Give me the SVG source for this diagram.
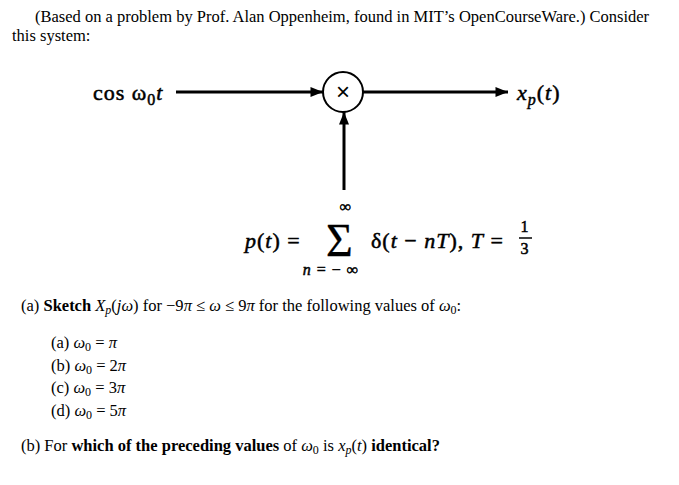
<svg xmlns="http://www.w3.org/2000/svg" width="679" height="485" viewBox="0 0 679 485">
<style>
.t{font-family:"Liberation Serif",serif;font-size:16.5px;fill:#000}
.d{font-family:"Liberation Serif",serif;font-size:22px;fill:#000;stroke:#000;stroke-width:0.5;letter-spacing:1px}
.i{font-style:italic}
.b{font-weight:bold}
.w{stroke:#000;stroke-width:3;fill:none}
</style>
<defs>
<marker id="a" viewBox="0 0 10 8" refX="10" refY="4" markerWidth="18" markerHeight="10" markerUnits="userSpaceOnUse" orient="auto"><path d="M0,0L10,4L0,8z" fill="#000"/></marker></defs>
<text class="t" x="35" y="22">(Based on a problem by Prof. Alan Oppenheim, found in MIT’s OpenCourseWare.) Consider</text>
<text class="t" x="12" y="41">this system:</text>
<g id="mult"><circle cx="343" cy="92" r="20" fill="#fff" stroke="#000" stroke-width="2"/><text x="343" y="100" text-anchor="middle" font-family="Liberation Sans,sans-serif" font-size="24">×</text></g>
<g id="connectors">
<line class="w" x1="176" y1="92" x2="323" y2="92" marker-end="url(#a)"/>
<line class="w" x1="363" y1="92" x2="508" y2="92" marker-end="url(#a)"/>
<line class="w" x1="344" y1="190" x2="344" y2="112" marker-end="url(#a)"/>
</g>
<g id="in"><text class="d" x="93" y="100">cos ω<tspan style="font-size:16px" dy="5">0</tspan><tspan class="i" dy="-5">t</tspan></text></g>
<g id="out"><text class="d i" x="517" y="100">x<tspan style="font-size:16px" dy="5">p</tspan><tspan dy="-5" font-style="normal">(</tspan>t<tspan font-style="normal">)</tspan></text></g>
<g id="pt">
<text class="d" x="245" y="248"><tspan class="i">p</tspan>(<tspan class="i">t</tspan>) =</text>
<text class="d" x="326" y="256" style="font-size:46px;stroke-width:0.3">Σ</text>
<text class="d" x="346" y="212" text-anchor="middle" style="font-size:16px">∞</text>
<text class="d" x="331" y="275" text-anchor="middle" style="font-size:16px"><tspan class="i">n</tspan> = − ∞</text>
<text class="d" x="371" y="248">δ(<tspan class="i">t</tspan> − <tspan class="i">nT</tspan>),  <tspan class="i">T</tspan> =</text>
<text class="d" x="525" y="232" text-anchor="middle" style="font-size:16px">1</text>
<line x1="519" y1="238" x2="532" y2="238" stroke="#000" stroke-width="1.5"/>
<text class="d" x="525" y="254" text-anchor="middle" style="font-size:16px">3</text>
</g>
<text class="t" x="21" y="311">(a) <tspan class="b">Sketch</tspan> <tspan class="i">X</tspan><tspan class="i" style="font-size:12px" dy="3">p</tspan><tspan dy="-3">(</tspan><tspan class="i">jω</tspan>) for −9<tspan class="i">π</tspan> ≤ <tspan class="i">ω</tspan> ≤ 9<tspan class="i">π</tspan> for the following values of <tspan class="i">ω</tspan><tspan style="font-size:12px" dy="3">0</tspan><tspan dy="-3">:</tspan></text>
<text class="t" x="51" y="348">(a)  <tspan class="i">ω</tspan><tspan style="font-size:12px" dy="3">0</tspan><tspan dy="-3"> = </tspan><tspan class="i">π</tspan></text>
<text class="t" x="51" y="371">(b)  <tspan class="i">ω</tspan><tspan style="font-size:12px" dy="3">0</tspan><tspan dy="-3"> = 2</tspan><tspan class="i">π</tspan></text>
<text class="t" x="51" y="393">(c)  <tspan class="i">ω</tspan><tspan style="font-size:12px" dy="3">0</tspan><tspan dy="-3"> = 3</tspan><tspan class="i">π</tspan></text>
<text class="t" x="51" y="416">(d)  <tspan class="i">ω</tspan><tspan style="font-size:12px" dy="3">0</tspan><tspan dy="-3"> = 5</tspan><tspan class="i">π</tspan></text>
<text class="t" x="21" y="451">(b) For <tspan class="b">which of the preceding values</tspan> of <tspan class="i">ω</tspan><tspan style="font-size:12px" dy="3">0</tspan><tspan dy="-3"> is </tspan><tspan class="i">x</tspan><tspan class="i" style="font-size:12px" dy="3">p</tspan><tspan dy="-3">(</tspan><tspan class="i">t</tspan>) <tspan class="b">identical?</tspan></text>
</svg>
